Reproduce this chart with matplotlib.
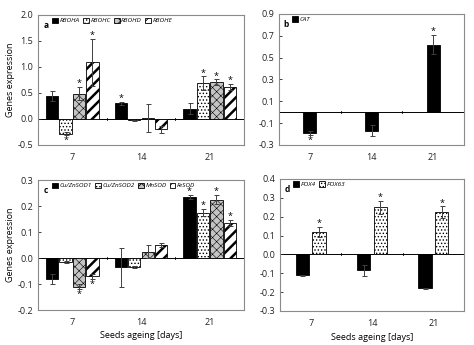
import numpy as np
import matplotlib
matplotlib.use("Agg")
import matplotlib.pyplot as plt

plt.rcParams["font.family"] = ["Open Sans", "DejaVu Sans"]
plt.rcParams["axes.unicode_minus"] = False
plt.rcParams["hatch.linewidth"] = 0.6

days = ["7", "14", "21"]

# panel a: RBOH genes
rboh_names = ["RBOHA", "RBOHC", "RBOHD", "RBOHE"]
rboh_vals = [[0.44, 0.30, 0.20],
             [-0.28, -0.02, 0.69],
             [0.49, 0.02, 0.71],
             [1.09, -0.20, 0.62]]
rboh_err = [[0.10, 0.03, 0.10],
            [0.03, 0.01, 0.13],
            [0.13, 0.27, 0.05],
            [0.45, 0.07, 0.06]]
rboh_star = [[False, True, False],
             [True, False, True],
             [True, False, True],
             [True, False, True]]

# panel b: CAT
cat_vals = [-0.19, -0.17, 0.62]
cat_err = [0.02, 0.05, 0.09]
cat_star = [True, False, True]

# panel c: SOD genes
sod_names = ["Cu/ZnSOD1", "Cu/ZnSOD2", "MnSOD", "FeSOD"]
sod_vals = [[-0.08, -0.035, 0.235],
            [-0.015, -0.035, 0.175],
            [-0.11, 0.025, 0.225],
            [-0.07, 0.05, 0.135]]
sod_err = [[0.02, 0.075, 0.008],
           [0.003, 0.005, 0.015],
           [0.01, 0.025, 0.017],
           [0.01, 0.007, 0.012]]
sod_star = [[False, False, True],
            [False, False, True],
            [True, False, True],
            [True, False, True]]

# panel d: POX genes
pox_names = ["POX4", "POX63"]
pox_vals = [[-0.11, -0.085, -0.18],
            [0.12, 0.25, 0.225]]
pox_err = [[0.003, 0.03, 0.003],
           [0.025, 0.035, 0.03]]
pox_star = [[False, False, False],
            [True, True, True]]

# fill styles: solid black, dotted white, grey checks, bold stripes
styles = [dict(facecolor="black", hatch=None, hlw=0.6),
          dict(facecolor="white", hatch=".....", hlw=0.6),
          dict(facecolor="#c4c4c4", hatch="xxxx", hlw=0.4),
          dict(facecolor="white", hatch="///", hlw=1.8)]

fig = plt.figure(figsize=(4.74, 3.45), dpi=100)
boxes = {"a": [38/474, 1-145/345, (244-38)/474, 130/345],
         "b": [279/474, 1-145/345, (464-279)/474, 131/345],
         "c": [38/474, 1-310/345, (244-38)/474, 130/345],
         "d": [280/474, 1-311/345, (464-280)/474, 132/345]}
frame = "#8a8a8a"


def panel(key, names, vals, errs, stars, ylim, yticks, width, step, xlabel):
    ax = fig.add_axes(boxes[key])
    x = np.arange(len(days))
    n = len(vals)
    span = (ylim[1] - ylim[0]) * 0.025
    for i in range(n):
        pos = x + (i - (n - 1) / 2) * step
        st = styles[i] if n != 2 or i == 0 else styles[1]
        with plt.rc_context({"hatch.linewidth": st["hlw"]}):
            bars = ax.bar(pos, vals[i], width, color=st["facecolor"],
                          edgecolor="black", hatch=st["hatch"], linewidth=0.6,
                          label=names[i], zorder=2)
        for b in bars:
            if hasattr(b, "set_hatch_linewidth"):
                b.set_hatch_linewidth(st["hlw"])
        ax.errorbar(pos, vals[i], yerr=errs[i], fmt="none", ecolor="#404040",
                    elinewidth=0.7, capsize=1.8, capthick=0.7, zorder=3)
        for p, v, e, s in zip(pos, vals[i], errs[i], stars[i]):
            if s:
                y = v + e + span if v >= 0 else v - e - span * 1.6
                ax.text(p, y, "*", ha="center", va="center", fontsize=6.5)
    ax.axhline(0, color="black", linewidth=0.7, zorder=1)
    for b in [0.5, 1.5]:
        ax.plot([b, b], [-span * 0.3, span * 0.3], color="black", lw=0.6)
    ax.set_xlim(-0.5, 2.5)
    ax.set_ylim(*ylim)
    ax.set_yticks(yticks)
    ax.set_yticklabels(["{:.1f}".format(t) for t in yticks])
    ax.set_xticks(x)
    ax.set_xticklabels(days)
    ax.tick_params(axis="both", labelsize=6.5, length=2, width=0.6,
                   direction="in", colors="#222222")
    ax.tick_params(axis="x", length=0, pad=6)
    for s in ax.spines.values():
        s.set_color(frame)
        s.set_linewidth(0.8)
    ax.text(0.025, 0.955, key, transform=ax.transAxes, fontsize=6,
            fontweight="bold", va="top", ha="left")
    leg = ax.legend(loc="upper left", bbox_to_anchor=(0.045, 1.02), ncol=n,
                    frameon=False, fontsize=4.6, handlelength=0.9,
                    handleheight=0.9, handletextpad=0.25, columnspacing=0.5,
                    borderpad=0.3)
    for t in leg.get_texts():
        t.set_fontstyle("italic")
    if xlabel:
        ax.set_xlabel("Seeds ageing [days]", fontsize=6.5, labelpad=3)
    return ax


axa = panel("a", rboh_names, rboh_vals, rboh_err, rboh_star, (-0.5, 2.0),
            np.arange(-0.5, 2.01, 0.5), 0.18, 0.195, False)
axa.set_ylabel("Genes expression", fontsize=6.5, labelpad=2)
panel("b", ["CAT"], [cat_vals], [cat_err], [cat_star], (-0.3, 0.9),
      np.arange(-0.3, 0.91, 0.2), 0.21, 0.0, False)
axc = panel("c", sod_names, sod_vals, sod_err, sod_star, (-0.2, 0.3),
            np.arange(-0.2, 0.31, 0.1), 0.18, 0.195, True)
axc.set_ylabel("Genes expression", fontsize=6.5, labelpad=2)
panel("d", pox_names, pox_vals, pox_err, pox_star, (-0.3, 0.4),
      np.arange(-0.3, 0.41, 0.1), 0.22, 0.27, True)

fig.savefig("out.png", dpi=100)
